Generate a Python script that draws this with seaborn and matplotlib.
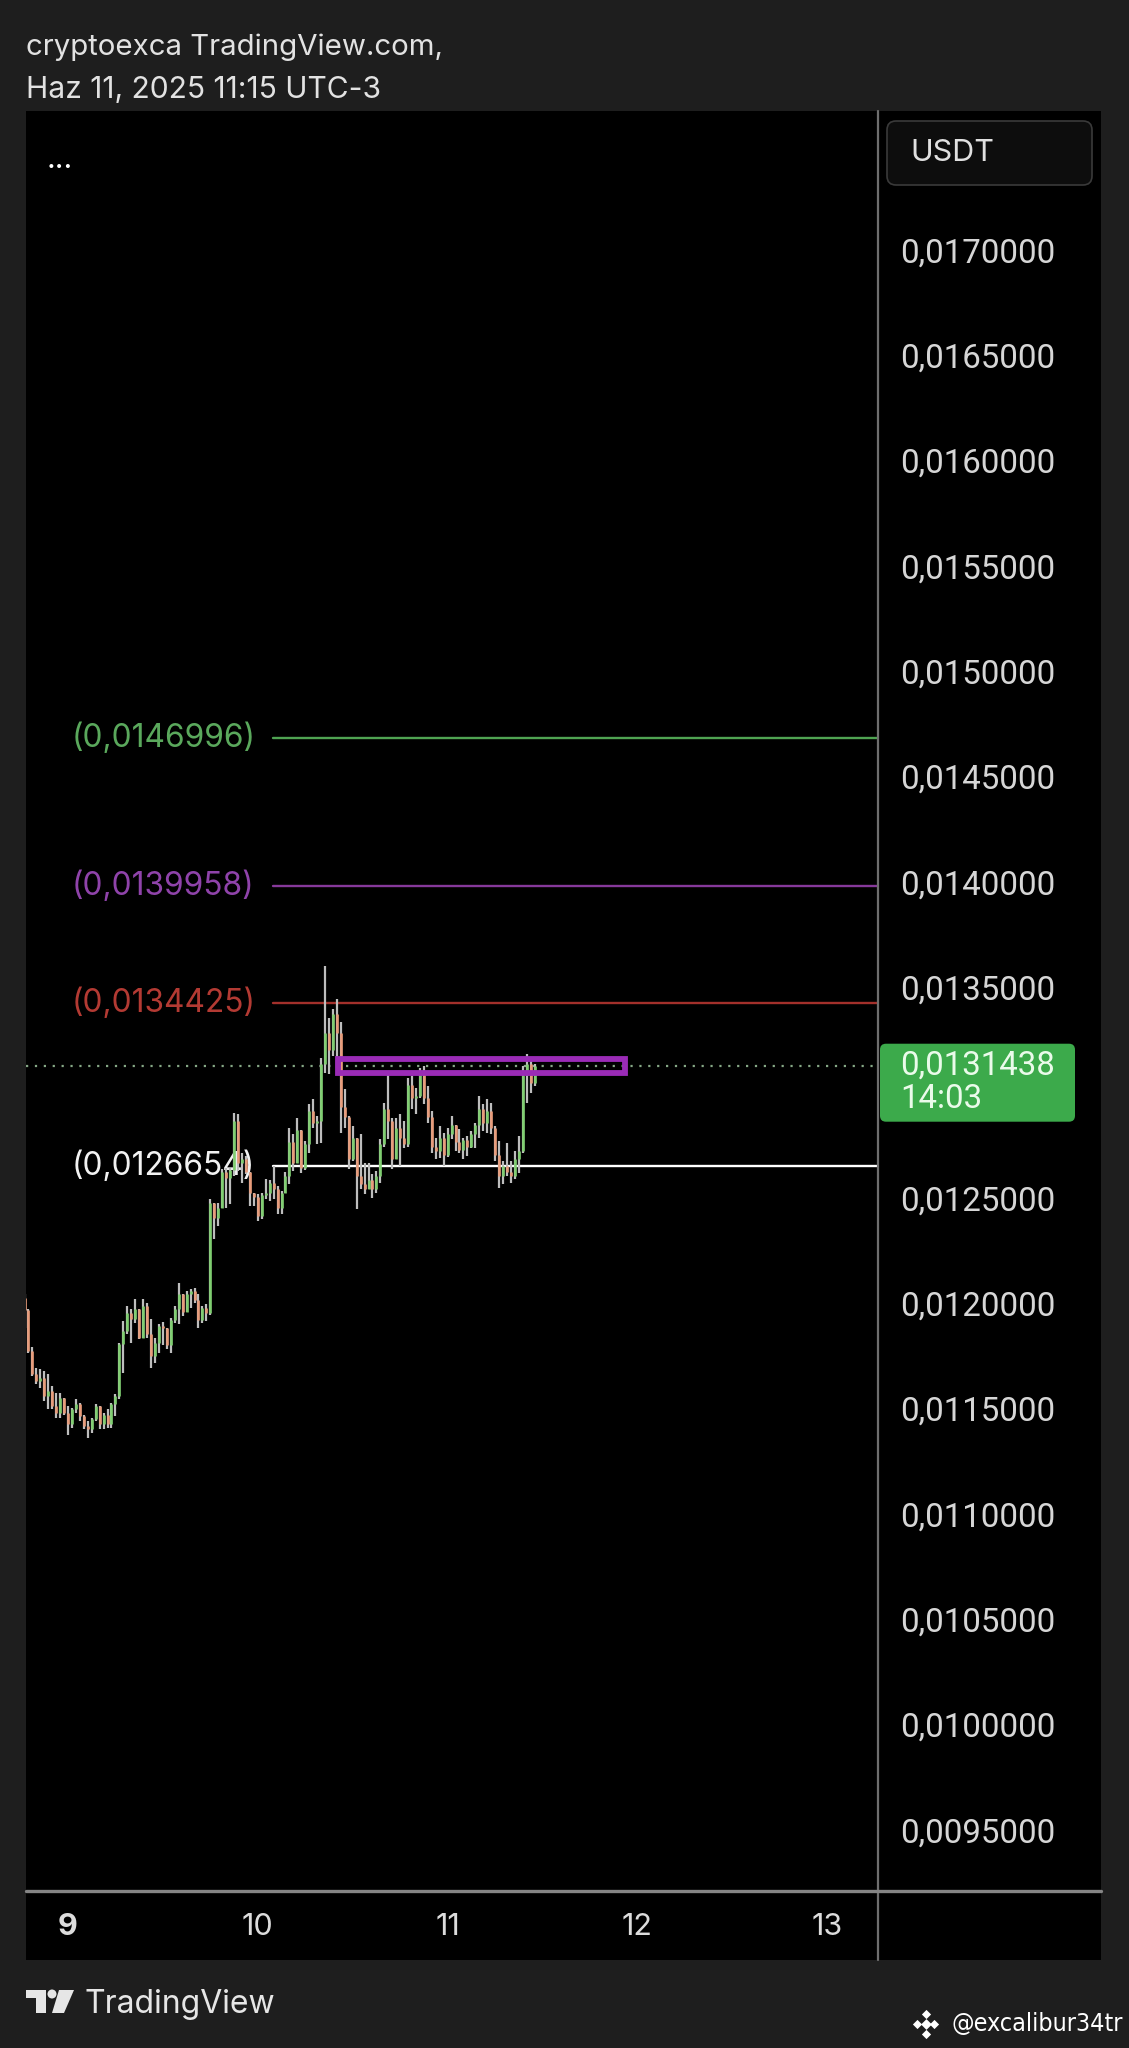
import numpy as np
import pandas as pd
import matplotlib
matplotlib.use("Agg")
import matplotlib.pyplot as plt
from matplotlib.patches import FancyBboxPatch, Rectangle, Polygon, Circle
import matplotlib.transforms as mtransforms
import seaborn as sns

W, H = 1129, 2048

# 30 minute candles, prices in millionths of USDT
first_open = 12040
highs = [12058, 11987, 11810, 11710, 11702, 11694, 11678, 11623, 11591, 11591,
         11567, 11528, 11520, 11560, 11544, 11488, 11457, 11472, 11536, 11520,
         11496, 11512, 11544, 11583, 11829, 11932, 12003, 11987, 12035, 11971,
         12035, 12019, 11940, 11852, 11916, 11928, 11900, 11947, 12003, 12114,
         12058, 12074, 12082, 12090, 12058, 12003, 12011, 12509, 12486, 12494,
         12652, 12660, 12660, 12921, 12913, 12731, 12715, 12640, 12541, 12533,
         12541, 12604, 12600, 12668, 12573, 12549, 12640, 12850, 12818, 12897,
         12840, 12787, 12961, 12985, 12905, 13182, 13618, 13372, 13412, 13459,
         13349, 13032, 12905, 12858, 12800, 12818, 12684, 12684, 12628, 12644,
         12795, 12969, 13103, 12897, 12897, 12913, 12882, 13087, 13095, 13040,
         13134, 13142, 13047, 12929, 12802, 12857, 12826, 12849, 12905, 12860,
         12841, 12802, 12810, 12834, 12873, 13000, 12960, 12984, 12968, 12857,
         12786, 12691, 12778, 12691, 12739, 12810, 13142, 13198, 13166, 13150]
lows = [11900, 11781, 11670, 11631, 11615, 11552, 11512, 11512, 11472, 11472,
        11488, 11393, 11425, 11496, 11457, 11417, 11378, 11401, 11457, 11417,
        11417, 11425, 11425, 11480, 11560, 11686, 11868, 11829, 11924, 11845,
        11860, 11852, 11710, 11734, 11781, 11820, 11797, 11781, 11924, 11916,
        11955, 11990, 11995, 12019, 11900, 11924, 11931, 11960, 12320, 12383,
        12470, 12470, 12486, 12620, 12644, 12589, 12628, 12478, 12478, 12407,
        12415, 12509, 12502, 12509, 12438, 12438, 12540, 12580, 12644, 12680,
        12636, 12650, 12731, 12850, 12771, 12779, 13111, 13103, 13190, 13135,
        12826, 12850, 12652, 12690, 12462, 12557, 12533, 12557, 12518, 12541,
        12589, 12760, 12795, 12652, 12700, 12668, 12755, 12760, 12937, 12913,
        12990, 12960, 12873, 12731, 12699, 12707, 12667, 12710, 12794, 12739,
        12731, 12699, 12715, 12754, 12754, 12802, 12834, 12826, 12818, 12691,
        12564, 12580, 12620, 12588, 12604, 12636, 12731, 12968, 13016, 13047]
closes = [11985, 11789, 11678, 11647, 11660, 11575, 11599, 11528, 11496, 11567,
          11496, 11441, 11512, 11536, 11480, 11433, 11420, 11465, 11528, 11441,
          11488, 11441, 11536, 11575, 11821, 11884, 11971, 11940, 11990, 11852,
          12003, 11868, 11765, 11829, 11908, 11900, 11820, 11935, 11990, 12060,
          11975, 12060, 12075, 12030, 11935, 11995, 11970, 12490, 12420, 12470,
          12640, 12610, 12650, 12880, 12680, 12700, 12640, 12540, 12520, 12430,
          12530, 12540, 12585, 12560, 12470, 12540, 12620, 12780, 12680, 12840,
          12660, 12770, 12930, 12870, 12880, 13150, 13300, 13220, 13390, 13300,
          12950, 12900, 12700, 12800, 12620, 12580, 12560, 12600, 12560, 12620,
          12770, 12940, 12880, 12700, 12850, 12800, 12770, 13050, 12990, 13000,
          13110, 12990, 12900, 12760, 12740, 12800, 12720, 12820, 12860, 12780,
          12745, 12790, 12760, 12820, 12860, 12940, 12870, 12930, 12850, 12720,
          12620, 12670, 12640, 12620, 12700, 12740, 13100, 13150, 13060, 13143.8]
first_candle_day = 8 + 18.5 / 24   # 8 Haz 18:30
bar_days = 1 / 48

level_prices = [0.0146996, 0.0139958, 0.0134425, 0.0126654]
level_labels = ["(0,0146996)", "(0,0139958)", "(0,0134425)", "(0,0126654)"]
level_colors = ["#4fa352", "#86399a", "#a3302b", "#ffffff"]
label_colors = ["#5aa85c", "#8f43aa", "#b33a33", "#f2f2f2"]
level_start = 10.08

box_low, box_high = 0.013111, 0.013178
box_start, box_end = 10.425, 11.937

last_price = 0.0131438
countdown = "14:03"

# 0,0130000 sits under the last-price tag, so it is not shown
price_ticks = [0.0170, 0.0165, 0.0160, 0.0155, 0.0150, 0.0145, 0.0140, 0.0135,
               0.0125, 0.0120, 0.0115, 0.0110, 0.0105, 0.0100, 0.0095]
day_ticks = [9, 10, 11, 12, 13]

XLIM = (8.7787, 13.2676)
YLIM = (0.009226, 0.017676)
PX_PRICE = (YLIM[1] - YLIM[0]) / 1780

sns.set_theme(style="dark", rc={"figure.facecolor": "#1e1e1e"})
plt.rcParams["font.family"] = ["Inter", "DejaVu Sans"]
NUM_FONT = ["Roboto", "DejaVu Sans"]   # tabular digits like the app
NUM_SIZE = 23.8

fig = plt.figure(figsize=(W / 100, H / 100), dpi=100)
fig.patch.set_facecolor("#1e1e1e")


def box(x0, y0, x1, y1):
    return [x0 / W, 1 - y1 / H, (x1 - x0) / W, (y1 - y0) / H]


ax = fig.add_axes(box(26, 111, 878, 1891))
axp = fig.add_axes(box(879, 111, 1101, 1891))
axt = fig.add_axes(box(26, 1892, 878, 1960))
axc = fig.add_axes(box(879, 1892, 1101, 1960))
for a in (ax, axp, axt, axc):
    a.set_facecolor("black")
    a.set_xticks([])
    a.set_yticks([])
    for s in a.spines.values():
        s.set_visible(False)

ax.set_xlim(*XLIM)
ax.set_ylim(*YLIM)

# candles
c = np.array(closes) * 1e-6
o = np.array([first_open] + closes[:-1]) * 1e-6
h = np.maximum(np.array(highs) * 1e-6, np.maximum(o, c))
l = np.minimum(np.array(lows) * 1e-6, np.minimum(o, c))
t = first_candle_day + np.arange(len(c)) * bar_days
up = c >= o
ax.vlines(t, l, h, color="#bdbdbd", lw=1.6, zorder=3)
ax.vlines(t[up], o[up], c[up], color="#7fcf70", lw=1.9, zorder=4)
ax.vlines(t[~up], c[~up], o[~up], color="#e99c7a", lw=1.9, zorder=4)

# horizontal levels
df_levels = pd.DataFrame({
    "day": [level_start, XLIM[1]] * len(level_prices),
    "price": np.repeat(level_prices, 2),
    "level": np.repeat(level_labels, 2),
})
sns.lineplot(data=df_levels, x="day", y="price", hue="level",
             palette=dict(zip(level_labels, level_colors)), legend=False,
             lw=1.7, ax=ax, zorder=2)
ax.set_xlabel("")
ax.set_ylabel("")
ax.set_xlim(*XLIM)
ax.set_ylim(*YLIM)

lbl_tr = mtransforms.blended_transform_factory(ax.transAxes, ax.transData)
for p, txt, col in zip(level_prices, level_labels, label_colors):
    ax.text((72 - 26) / 852, p, txt, color=col, fontsize=22.8, va="center",
            ha="left", transform=lbl_tr, zorder=2)

ax.axhline(last_price, color="#86a886", ls=(0, (1, 3)), lw=1.6, zorder=1)
ax.add_patch(Rectangle((box_start, box_low), box_end - box_start,
                       box_high - box_low, fill=False, ec="#9a2bb6",
                       lw=4.2, zorder=5))
ax.text(0.024, 1 - (160 - 111) / 1780, "...", color="white", fontsize=22,
        transform=ax.transAxes, va="center", ha="left")

# price scale
axp.set_xlim(0, 222)
axp.set_ylim(*YLIM)
for p in price_ticks:
    axp.text(21, p, f"{p:.7f}".replace(".", ","), color="#d6d6d6",
             fontsize=NUM_SIZE, va="center", ha="left", family=NUM_FONT)
tag_top = last_price + 22 * PX_PRICE
axp.add_patch(FancyBboxPatch((1, tag_top - 78 * PX_PRICE), 195, 78 * PX_PRICE,
                             boxstyle="round,pad=0,rounding_size=6",
                             mutation_aspect=PX_PRICE, fc="#3caa4b",
                             ec="none", zorder=5))
axp.text(21, last_price, f"{last_price:.7f}".replace(".", ","),
         color="#eafbea", fontsize=NUM_SIZE, va="center", ha="left",
         zorder=6, family=NUM_FONT)
axp.text(21, last_price - 33 * PX_PRICE, countdown, color="#eafbea",
         fontsize=NUM_SIZE, va="center", ha="left", zorder=6, family=NUM_FONT)

# time scale
axt.set_xlim(*XLIM)
axt.set_ylim(0, 1)
for d in day_ticks:
    axt.text(d, 0.49, str(d), color="#dcdcdc", fontsize=22, ha="center",
             va="center", weight="bold" if d == 9 else "normal")

# overlay in pixel coordinates
ov = fig.add_axes([0, 0, 1, 1], zorder=10)
ov.set_xlim(0, W)
ov.set_ylim(H, 0)
ov.axis("off")
ov.patch.set_alpha(0)
ov.plot([878, 878], [111, 1960], color="#6e6e6e", lw=1.6)
ov.plot([26, 1101], [1891, 1891], color="#858585", lw=2.4)

ov.text(26, 55, "cryptoexca TradingView.com,", color="#e2e2e2",
        fontsize=21.2, ha="left", va="baseline")
ov.text(26, 98, "Haz 11, 2025 11:15 UTC-3", color="#e2e2e2",
        fontsize=21.6, ha="left", va="baseline")

ov.add_patch(FancyBboxPatch((887, 121), 205, 64,
                            boxstyle="round,pad=0,rounding_size=9",
                            fc="#0d0d0d", ec="#3a3a3a", lw=1.2))
ov.text(910, 153, "USDT", color="#e0e0e0", fontsize=22, va="center",
        ha="left")

# TradingView logo + wordmark
ov.add_patch(Rectangle((26, 1990), 20, 8, fc="#e6e6e6", ec="none"))
ov.add_patch(Rectangle((36, 1990), 10, 23, fc="#e6e6e6", ec="none"))
ov.add_patch(Circle((52, 1994), 4.5, fc="#e6e6e6", ec="none"))
ov.add_patch(Polygon([(59, 1990), (74, 1990), (64, 2013), (52, 2013)],
                     fc="#e6e6e6", ec="none"))
ov.text(84, 2013, "TradingView", color="#e6e6e6", fontsize=23,
        ha="left", va="baseline")

# watermark
ov.scatter([925.5, 917, 934, 925.5], [2013.5, 2023.5, 2023.5, 2033.5],
           marker="D", s=22, color="white", lw=0)
ov.scatter([925.5], [2023.5], marker="D", s=30, color="white", lw=0)
ov.text(1123, 2024, "@excalibur34tr", color="white", fontsize=18,
        ha="right", va="center", family=["DejaVu Sans"],
        fontstretch="condensed")

fig.savefig("out.png", dpi=100, facecolor=fig.get_facecolor())
